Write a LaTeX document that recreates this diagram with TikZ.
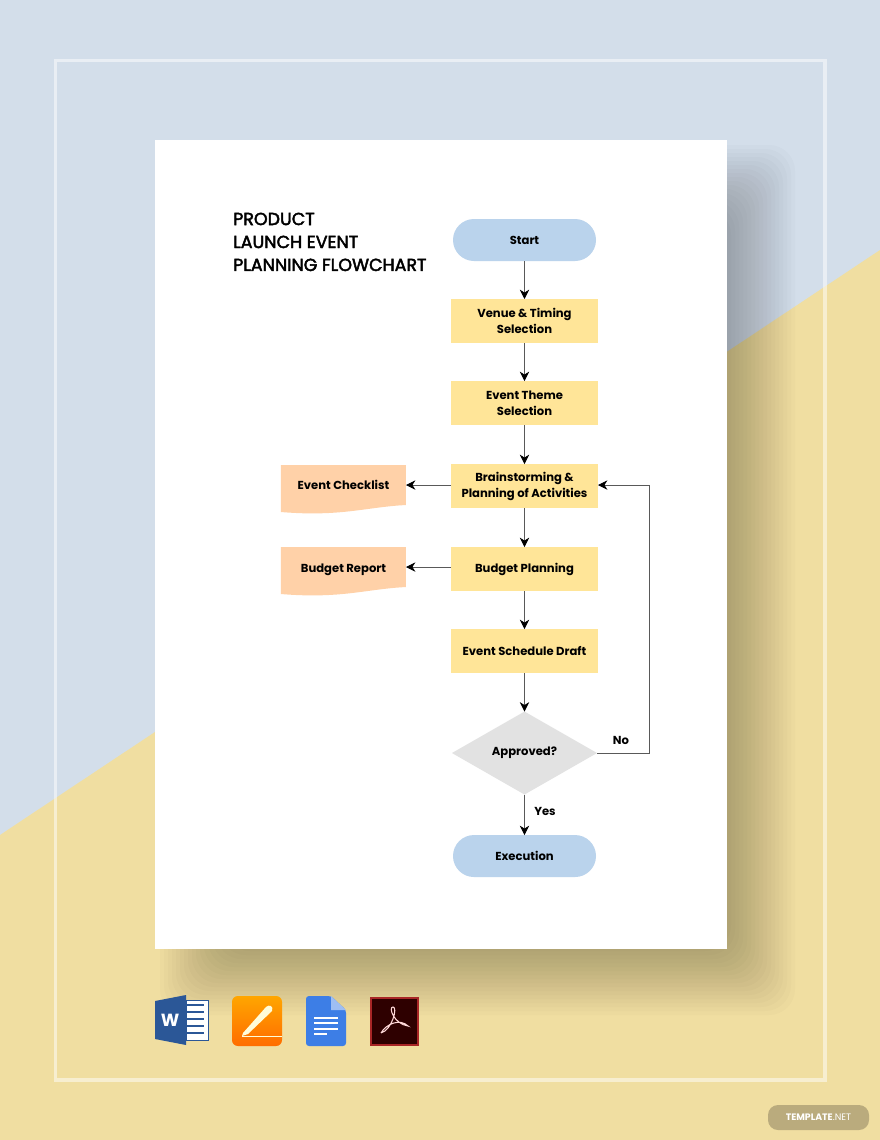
\documentclass[tikz,border=0pt]{standalone}
\usepackage{fontspec}
\setmainfont{Poppins}
\newfontfamily\titlefont[FakeBold=2.5]{Poppins}
\usetikzlibrary{positioning, arrows.meta, shapes.geometric, calc}
\definecolor{bgblue}{HTML}{D3DEEA}
\definecolor{bgyellow}{HTML}{F0DEA1}
\definecolor{termfill}{HTML}{BAD3EC}
\definecolor{stepfill}{HTML}{FFE598}
\definecolor{docfill}{HTML}{FFD1A8}
\definecolor{decfill}{HTML}{E2E2E2}
\definecolor{wordblue}{HTML}{2B5797}
\definecolor{gdocblue}{HTML}{3D7EE6}
\tikzset{
  terminal/.style={
    rectangle,
    rounded corners=0.63cm,
    minimum width=4.29cm,
    minimum height=1.26cm,
    inner sep=0pt,
    outer sep=0pt,
    fill=termfill,
    font=\fontsize{9.9}{12}\selectfont\bfseries,
    align=center
  },
  process/.style={
    rectangle,
    minimum width=4.41cm,
    minimum height=1.32cm,
    inner sep=0pt,
    outer sep=0pt,
    fill=stepfill,
    font=\fontsize{9.9}{13.6}\selectfont\bfseries,
    align=center
  },
  decision/.style={
    diamond,
    minimum width=4.35cm,
    minimum height=2.49cm,
    inner sep=0pt,
    outer sep=0pt,
    fill=decfill,
    font=\fontsize{9.9}{12}\selectfont\bfseries
  },
  report/.style={
    rectangle,
    minimum width=3.75cm,
    minimum height=1.2cm,
    inner sep=0pt,
    outer sep=0pt,
    text height=11pt,
    text depth=2.5pt,
    font=\fontsize{9.9}{12}\selectfont\bfseries
  },
  answer/.style={
    inner sep=0pt,
    font=\fontsize{9.9}{12}\selectfont\bfseries
  },
  flow/.style={
    draw=black!65,
    line width=0.7pt,
    -{Stealth[length=8pt, width=8pt, inset=2.5pt, color=black]}
  }
}
\newcommand{\wavefill}[1]{
  \fill[docfill] (#1.north west) -- (#1.north east) -- (#1.south east)
    .. controls ($(#1.south east)+(-40,2)$) and ($(#1.south west)+(60,12)$) .. ($(#1.south west)+(0,7)$) -- cycle;
}
\begin{document}
\begin{tikzpicture}[x=0.03cm, y=-0.03cm]
  \useasboundingbox (0,0) rectangle (880,1140);
  \fill[bgblue] (0,0) rectangle (880,1140);
  \fill[bgyellow] (0,835) -- (880,250) -- (880,1140) -- (0,1140) -- cycle;
  \draw[white, opacity=0.5, line width=2.6pt] (55.5,60.5) rectangle (825,1080);

  \foreach \s in {0,4,...,76} {
    \fill[black, opacity=0.0145, rounded corners=22pt] ({160+\s},{145+\s}) rectangle ({795-\s},{1015-\s});
  }
  \fill[white] (155,140) rectangle (727,949);

  \node[anchor=north west, inner sep=0pt, align=left, font=\fontsize{14.9}{19.6}\selectfont\titlefont] (title) at (233,212.5)
    {PRODUCT\\LAUNCH EVENT\\PLANNING FLOWCHART};

  \node[terminal] (start) at (524.5,240) {Start};
  \node[process, below=1.14cm of start] (venue) {Venue \& Timing\\Selection};
  \node[process, below=1.14cm of venue] (theme) {Event Theme\\Selection};
  \node[process, below=1.17cm of theme] (brainstorm) {Brainstorming \&\\Planning of Activities};
  \node[process, below=1.17cm of brainstorm] (budget) {Budget Planning};
  \node[process, below=1.14cm of budget] (schedule) {Event Schedule Draft};
  \node[decision, below=1.155cm of schedule] (approved) {Approved?};
  \node[terminal, below=1.215cm of approved] (execution) {Execution};

  \node[report, left=1.35cm of brainstorm, yshift=0.03cm] (checklist) {};
  \node[report, left=1.35cm of budget, yshift=0.06cm] (reportdoc) {};
  \wavefill{checklist}
  \wavefill{reportdoc}
  \node[report] (checklisttext) at (checklist) {Event Checklist};
  \node[report] (reporttext) at (reportdoc) {Budget Report};

  \node[answer] (nolabel) at (621,740) {No};
  \node[answer] (yeslabel) at (545,811) {Yes};
  \coordinate (loopturn) at ($(checklist -| brainstorm.east)+(51,0)$);

  \draw[flow] (start) -- (venue);
  \draw[flow] (venue) -- (theme);
  \draw[flow] (theme) -- (brainstorm);
  \draw[flow] (brainstorm) -- (budget);
  \draw[flow] (budget) -- (schedule);
  \draw[flow] (schedule) -- (approved);
  \draw[flow] (approved) -- (execution);
  \draw[flow] (checklist -| brainstorm.west) -- (checklist);
  \draw[flow] (reportdoc -| budget.west) -- (reportdoc);
  \draw[flow] (approved.east) -| (loopturn) -- (checklist -| brainstorm.east);

  \fill[white] (186,1000) rectangle (208,1040);
  \draw[wordblue, line width=0.8pt] (186,1000) rectangle (208,1040);
  \foreach \y in {1005,1012,...,1035} {
    \draw[wordblue, line width=1.4pt] (186,\y) -- (204,\y);
  }
  \fill[wordblue] (155,1001) -- (186,995) -- (186,1045) -- (155,1039) -- cycle;
  \node[white, inner sep=0pt, font=\fontsize{15}{15}\selectfont\bfseries] (wordletter) at (170,1020) {W};

  \shade[top color=orange!70!yellow, bottom color=orange!85!red, rounded corners=5pt] (232,996) rectangle (282,1046);
  \fill[white!85!yellow] (243,1033) -- (266,1007) .. controls (269,1004) and (274,1006) .. (272,1011) -- (248,1034) -- (242,1036) -- cycle;
  \draw[white!85!yellow, line width=0.9pt] (242,1036.5) -- (282,1036.5);

  \fill[gdocblue, rounded corners=2.5pt] (306,996) -- (331,996) -- (346,1010) -- (346,1046) -- (306,1046) -- cycle;
  \fill[gdocblue!50!white] (331,996) -- (346,1010) -- (331,1010) -- cycle;
  \foreach \y/\xend in {1018/338,1023/338,1029/338,1034/327} {
    \draw[white, line width=1pt] (314,\y) -- (\xend,\y);
  }

  \fill[black!82!red] (371,998) rectangle (418,1045);
  \draw[red!60!black!85!white, line width=2pt] (371,998) rectangle (418,1045);
  \draw[white!85!red, line width=0.9pt] (381,1033) .. controls (392,1030) and (398,1007) .. (393,1007)
    .. controls (388,1007) and (394,1024) .. (408,1026) .. controls (400,1018) and (386,1024) .. (381,1033);

  \fill[black!30!bgyellow, opacity=0.75, rounded corners=8.5pt] (768,1105) rectangle (869,1130);
  \node[white, inner sep=0pt, font=\fontsize{8}{10}\selectfont] (watermark) at (818.5,1117.5) {\textbf{TEMPLATE}.NET};
\end{tikzpicture}
\end{document}
